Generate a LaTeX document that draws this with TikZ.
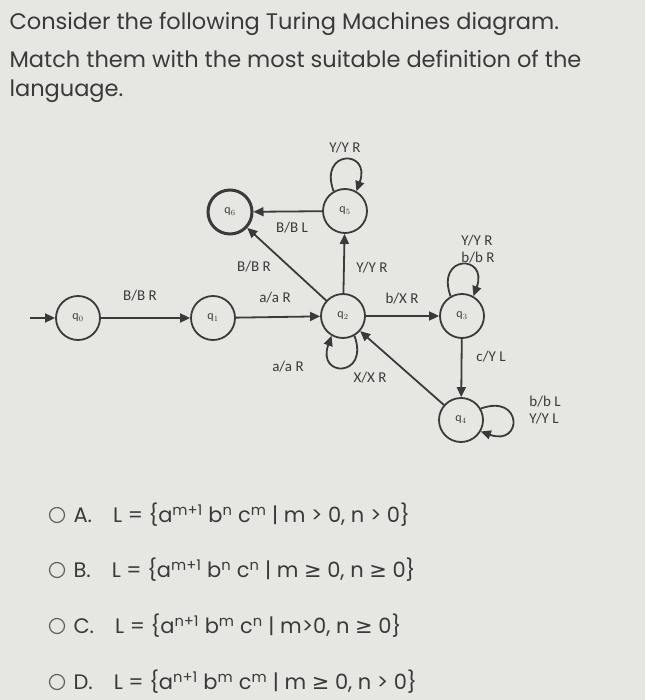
\documentclass[tikz,border=0pt]{standalone}
\usepackage{fontspec}
\setmainfont{Poppins}
\newfontfamily\lblfont{Carlito}
\newfontfamily\symfont{DejaVu Sans}
\usetikzlibrary{arrows.meta}
\definecolor{bg}{HTML}{E6E6E3}
\definecolor{ink}{HTML}{3A3A3A}
\newcommand{\sps}[1]{\textsuperscript{#1}}
\begin{document}
\begin{tikzpicture}[x=1pt,y=-1pt,
  st/.style={circle,draw=ink,line width=1.8pt,minimum size=44pt,inner sep=0pt,font=\lblfont\fontsize{12}{12}\selectfont,text=ink},
  acc/.style={st,line width=3pt},
  ed/.style={draw=ink,line width=1.8pt,-{Triangle[length=10pt,width=9pt]}},
  lb/.style={font=\lblfont\fontsize{15}{17}\selectfont,text=ink,align=left},
  qt/.style={anchor=west,font=\fontsize{22.5}{26}\selectfont,text=ink},
  op/.style={anchor=west,font=\fontsize{21}{24}\selectfont,text=ink},
  rad/.style={circle,draw=ink!80,line width=1.2pt,minimum size=15pt,inner sep=0pt}]
\fill[bg] (0,0) rectangle (645,700);
\useasboundingbox (0,0) rectangle (645,700);
\node[qt] (t1) at (6,24) {Consider the following Turing Machines diagram.};
\node[qt] (t2) at (6,59) {Match them with the most suitable definition of the};
\node[qt] (t3) at (6,91) {language.};
% states
\node[st] (q0) at (78,318) {q$_0$};
\node[st] (q1) at (213,318) {q$_1$};
\node[st] (q2) at (343,316) {q$_2$};
\node[st] (q3) at (462,316) {q$_3$};
\node[st] (q4) at (461,420) {q$_4$};
\node[st] (q5) at (345,211) {q$_5$};
\node[acc] (q6) at (230,212) {q$_6$};
\coordinate (s) at (30,318);
\draw[ed] (s) -- (q0);
\draw[ed] (q0) -- (q1);
\draw[ed] (q1) -- (q2);
\draw[ed] (q2) -- (q3);
\draw[ed] (q3) -- (q4);
\draw[ed] (q4) -- (q2);
\draw[ed] (q2) -- (q5);
\draw[ed] (q2) -- (q6);
\draw[ed] (q5) -- (q6);
\draw[ed] (q5.120) to[out=110,in=70,looseness=5] (q5.60);
\draw[ed] (q3.120) to[out=110,in=70,looseness=5] (q3.60);
\draw[ed] (q2.-60) to[out=-70,in=-110,looseness=5] (q2.-120);
\draw[ed] (q4.30) to[out=20,in=-20,looseness=5] (q4.-30);
% labels
\node[lb] (l01) at (140,296) {B/B R};
\node[lb] (l12) at (275,298) {a/a R};
\node[lb] (l62) at (254,267) {B/B R};
\node[lb] (l56) at (292,228) {B/B L};
\node[lb] (l55) at (345,148) {Y/Y R};
\node[lb] (l25) at (372,268) {Y/Y R};
\node[lb] (l23) at (402,299) {b/X R};
\node[lb] (l22) at (288,367) {a/a R};
\node[lb] (l42) at (370,378) {X/X R};
\node[lb] (l33) at (478,249) {Y/Y R\\b/b R};
\node[lb] (l34) at (491,357) {c/Y L};
\node[lb] (l44) at (545,410) {b/b L\\Y/Y L};
% options
\node[rad] (r1) at (57,515) {};
\node[rad] (r2) at (57,570) {};
\node[rad] (r3) at (57,626) {};
\node[rad] (r4) at (57,682) {};
\node[op] (o1) at (70,515) {A.\quad L = \{a\sps{m+1} b\sps{n} c\sps{m} | m > 0, n > 0\}};
\node[op] (o2) at (70,570) {B.\quad L = \{a\sps{m+1} b\sps{n} c\sps{n} | m {\symfont ≥} 0, n {\symfont ≥} 0\}};
\node[op] (o3) at (70,626) {C.\quad L = \{a\sps{n+1} b\sps{m} c\sps{n} | m>0, n {\symfont ≥} 0\}};
\node[op] (o4) at (70,682) {D.\quad L = \{a\sps{n+1} b\sps{m} c\sps{m} | m {\symfont ≥} 0, n > 0\}};
\end{tikzpicture}
\end{document}
